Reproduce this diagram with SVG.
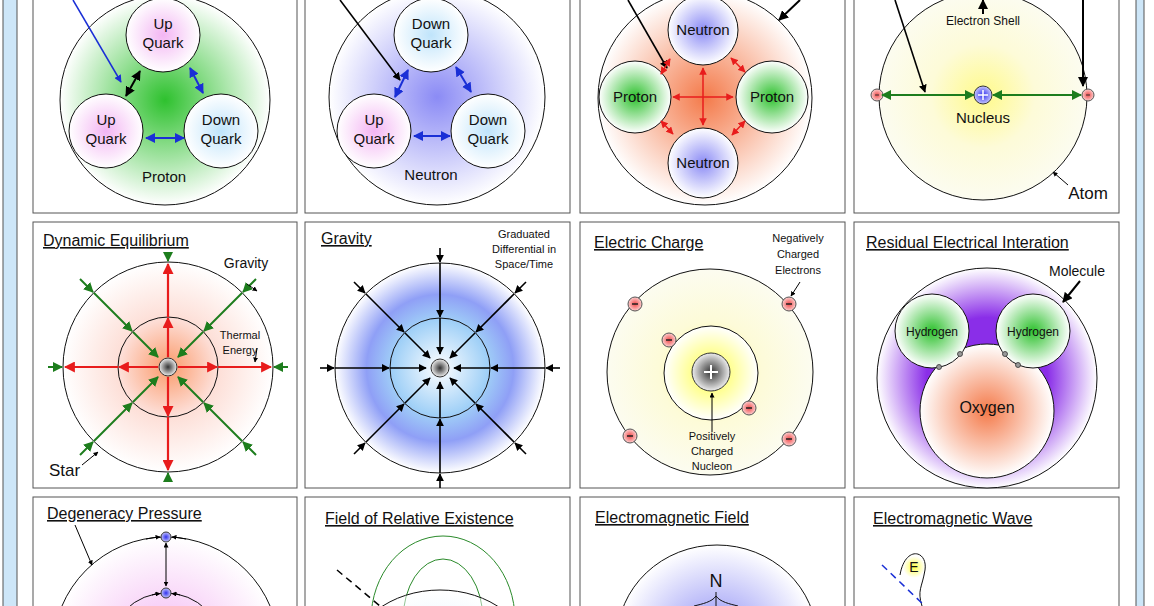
<svg xmlns="http://www.w3.org/2000/svg" width="1154" height="606" viewBox="0 0 1154 606">
<style>
text{font-family:"Liberation Sans",Arial,sans-serif;fill:#111}
.c{text-anchor:middle}
.l{fill:none;stroke:#111;stroke-width:1}
.box{fill:#fff;stroke:#555;stroke-width:1}
.t{font-size:16px;text-decoration:underline}
.q{font-size:15px}
.s{font-size:11px}
.rd{stroke:#e81c1c;stroke-width:2.2;marker-end:url(#ar)}
.rr{stroke:#e81c1c;stroke-width:1.5;marker-start:url(#ar);marker-end:url(#ar)}
.gr{stroke:#1d7d1d;stroke-width:2;marker-end:url(#ag)}
.bk{stroke:#000;stroke-width:1.6;marker-end:url(#ak)}
.b1{stroke:#000;stroke-width:1;marker-end:url(#ak)}
.bb{stroke:#1a2fd6;stroke-width:2;marker-start:url(#ab);marker-end:url(#ab)}
</style>
<defs>
<marker id="ak" viewBox="0 0 10 10" refX="9" refY="5" markerWidth="5" markerHeight="5" orient="auto-start-reverse"><path d="M0,0L10,5L0,10z" fill="#000"/></marker>
<marker id="ab" viewBox="0 0 10 10" refX="9" refY="5" markerWidth="5" markerHeight="5" orient="auto-start-reverse"><path d="M0,0L10,5L0,10z" fill="#1a2fd6"/></marker>
<marker id="ar" viewBox="0 0 10 10" refX="9" refY="5" markerWidth="5" markerHeight="5" orient="auto-start-reverse"><path d="M0,0L10,5L0,10z" fill="#e81c1c"/></marker>
<marker id="ag" viewBox="0 0 10 10" refX="9" refY="5" markerWidth="5" markerHeight="5" orient="auto-start-reverse"><path d="M0,0L10,5L0,10z" fill="#1d7d1d"/></marker>
<radialGradient id="gGreen"><stop offset="0" stop-color="#2ec12e"/><stop offset="1" stop-color="#fff"/></radialGradient>
<radialGradient id="gPink"><stop offset="0" stop-color="#f3b5f3"/><stop offset="1" stop-color="#fff"/></radialGradient>
<radialGradient id="gCyan"><stop offset="0" stop-color="#bfe4fb"/><stop offset="1" stop-color="#fff"/></radialGradient>
<radialGradient id="gBlue"><stop offset="0" stop-color="#8b8bf5"/><stop offset="1" stop-color="#fff"/></radialGradient>
<radialGradient id="gOrange"><stop offset="0" stop-color="#f47a4a"/><stop offset="1" stop-color="#fff"/></radialGradient>
<radialGradient id="gYellow"><stop offset="0" stop-color="#fffa8a"/><stop offset="0.5" stop-color="#fdfbd8"/><stop offset="1" stop-color="#fcfcf0"/></radialGradient>
<radialGradient id="gRedPale"><stop offset="0" stop-color="#fb9a6a"/><stop offset="0.45" stop-color="#fdddd5"/><stop offset="1" stop-color="#fff"/></radialGradient>
<radialGradient id="gSky"><stop offset="0" stop-color="#fff"/><stop offset="0.45" stop-color="#a0d0f7"/><stop offset="0.7" stop-color="#8f9ff6"/><stop offset="1" stop-color="#fff"/></radialGradient>
<radialGradient id="gGray"><stop offset="0" stop-color="#333"/><stop offset="1" stop-color="#eee"/></radialGradient>
<radialGradient id="gPurple"><stop offset="0.55" stop-color="#8a2ee8"/><stop offset="1" stop-color="#fff"/></radialGradient>
<radialGradient id="gEl"><stop offset="0" stop-color="#f34a4a"/><stop offset="1" stop-color="#fbd0d0"/></radialGradient>
<radialGradient id="gNu"><stop offset="0" stop-color="#3030ee"/><stop offset="1" stop-color="#c8c8fb"/></radialGradient>
<radialGradient id="gYel2"><stop offset="0" stop-color="#ffff44"/><stop offset="1" stop-color="#fff"/></radialGradient>
</defs>
<rect width="1154" height="606" fill="#fff"/>
<g id="frame">
<rect x="3" y="-2" width="14" height="610" fill="#cde6f8" stroke="#555"/>
<rect x="1136" y="-2" width="8" height="610" fill="#cde6f8" stroke="#555"/>
<rect x="33" y="-5" width="264" height="218" class="box"/>
<rect x="305" y="-5" width="265" height="218" class="box"/>
<rect x="580" y="-5" width="265" height="218" class="box"/>
<rect x="854" y="-5" width="265" height="218" class="box"/>
<rect x="33" y="222" width="264" height="266" class="box"/>
<rect x="305" y="222" width="265" height="266" class="box"/>
<rect x="580" y="222" width="265" height="266" class="box"/>
<rect x="854" y="222" width="265" height="266" class="box"/>
<rect x="33" y="497" width="264" height="120" class="box"/>
<rect x="305" y="497" width="265" height="120" class="box"/>
<rect x="580" y="497" width="265" height="120" class="box"/>
<rect x="854" y="497" width="265" height="120" class="box"/>
</g>

<g id="proton">
<circle cx="165" cy="100" r="105" fill="url(#gGreen)" stroke="#111"/>
<circle cx="163" cy="35" r="37" fill="url(#gPink)" stroke="#111"/>
<circle cx="106" cy="131" r="37" fill="url(#gPink)" stroke="#111"/>
<circle cx="221" cy="131" r="37" fill="url(#gCyan)" stroke="#111"/>
<text x="163" y="29" class="c q">Up</text><text x="163" y="48" class="c q">Quark</text>
<text x="106" y="125" class="c q">Up</text><text x="106" y="144" class="c q">Quark</text>
<text x="221" y="125" class="c q">Down</text><text x="221" y="144" class="c q">Quark</text>
<text x="164" y="182" class="c q">Proton</text>
</g>
<g id="neutron">
<circle cx="437" cy="97" r="108" fill="url(#gBlue)" stroke="#111"/>
<circle cx="431" cy="35" r="37" fill="url(#gCyan)" stroke="#111"/>
<circle cx="374" cy="131" r="37" fill="url(#gPink)" stroke="#111"/>
<circle cx="488" cy="131" r="37" fill="url(#gCyan)" stroke="#111"/>
<text x="431" y="29" class="c q">Down</text><text x="431" y="48" class="c q">Quark</text>
<text x="374" y="125" class="c q">Up</text><text x="374" y="144" class="c q">Quark</text>
<text x="488" y="125" class="c q">Down</text><text x="488" y="144" class="c q">Quark</text>
<text x="431" y="180" class="c q">Neutron</text>
</g>
<g id="nucleus">
<circle cx="705" cy="98" r="107" fill="url(#gOrange)" stroke="#111"/>
<circle cx="703" cy="30" r="35" fill="url(#gBlue)" stroke="#111"/>
<circle cx="703" cy="163" r="35" fill="url(#gBlue)" stroke="#111"/>
<circle cx="635" cy="97" r="36" fill="url(#gGreen)" stroke="#111"/>
<circle cx="772" cy="97" r="36" fill="url(#gGreen)" stroke="#111"/>
<text x="703" y="35" class="c q">Neutron</text>
<text x="703" y="168" class="c q">Neutron</text>
<text x="635" y="102" class="c q">Proton</text>
<text x="772" y="102" class="c q">Proton</text>
</g>
<g id="atom">
<circle cx="983" cy="96" r="104" fill="url(#gYellow)" stroke="#111"/>
<circle cx="983" cy="95" r="9" fill="url(#gNu)" stroke="#333"/>
<path d="M978,95h10M983,90v10" stroke="#fff" stroke-width="1.5"/>
<circle cx="877" cy="95" r="6" fill="url(#gEl)" stroke="#555"/>
<circle cx="1088" cy="95" r="6" fill="url(#gEl)" stroke="#555"/>
<path d="M875,95h4M1086,95h4" stroke="#333"/>
<text x="983" y="123" class="c q">Nucleus</text>
<text x="983" y="25" class="c" font-size="12">Electron Shell</text>
<text x="1088" y="199" class="c" font-size="17">Atom</text>
</g>

<g id="dynamic-equilibrium">
<text x="43" y="246" class="t">Dynamic Equilibrium</text>
<circle cx="168" cy="367" r="105" fill="url(#gRedPale)" stroke="#111"/>
<circle cx="168" cy="367" r="50" fill="none" stroke="#111"/>
<circle cx="168" cy="367" r="9" fill="url(#gGray)" stroke="#333"/>
<text x="246" y="268" class="c" font-size="14">Gravity</text>
<text x="240" y="339" class="c" font-size="11">Thermal</text>
<text x="240" y="354" class="c" font-size="11">Energy</text>
<text x="49" y="476" font-size="17">Star</text>
</g>
<g id="gravity">
<text x="321" y="244" class="t">Gravity</text>
<circle cx="440" cy="368" r="105" fill="url(#gSky)" stroke="#111"/>
<circle cx="440" cy="368" r="50" fill="none" stroke="#111"/>
<circle cx="440" cy="368" r="9" fill="url(#gGray)" stroke="#333"/>
<text x="524" y="238" class="c s">Graduated</text>
<text x="524" y="253" class="c s">Differential in</text>
<text x="524" y="268" class="c s">Space/Time</text>
</g>
<g id="electric-charge">
<text x="594" y="248" class="t">Electric Charge</text>
<circle cx="710" cy="372" r="103" fill="url(#gYellow)" stroke="#111"/>
<circle cx="711" cy="373" r="47" fill="url(#gYel2)" stroke="#111"/>
<circle cx="711" cy="372" r="19" fill="url(#gGray)" stroke="#333"/>
<path d="M704,372h14M711,365v14" stroke="#fff" stroke-width="2"/>
<g fill="url(#gEl)" stroke="#555">
<circle cx="635" cy="304" r="7"/><circle cx="789" cy="304" r="7"/><circle cx="630" cy="436" r="7"/><circle cx="789" cy="439" r="7"/><circle cx="669" cy="340" r="7"/><circle cx="749" cy="408" r="7"/>
</g>
<path d="M632,304h6M786,304h6M627,436h6M786,439h6M666,340h6M746,408h6" stroke="#222" stroke-width="1.5"/>
<text x="798" y="242" class="c s">Negatively</text>
<text x="798" y="258" class="c s">Charged</text>
<text x="798" y="274" class="c s">Electrons</text>
<text x="712" y="440" class="c s">Positively</text>
<text x="712" y="455" class="c s">Charged</text>
<text x="712" y="470" class="c s">Nucleon</text>
</g>
<g id="molecule">
<text x="866" y="248" class="t">Residual Electrical Interation</text>
<circle cx="987" cy="378" r="110" fill="url(#gPurple)" stroke="#111"/>
<circle cx="987" cy="411" r="67" fill="url(#gOrange)" stroke="#111"/>
<circle cx="932" cy="331" r="37" fill="url(#gGreen)" stroke="#111"/>
<circle cx="1033" cy="331" r="37" fill="url(#gGreen)" stroke="#111"/>
<text x="932" y="336" class="c" font-size="12">Hydrogen</text>
<text x="1033" y="336" class="c" font-size="12">Hydrogen</text>
<text x="987" y="413" class="c" font-size="16">Oxygen</text>
<text x="1077" y="276" class="c" font-size="14">Molecule</text>
<g fill="#999" stroke="#333" stroke-width="0.8"><circle cx="939" cy="367" r="2.5"/><circle cx="960" cy="354" r="2.5"/><circle cx="1005" cy="354" r="2.5"/><circle cx="1018" cy="365" r="2.5"/></g>
</g>

<g id="degeneracy-pressure">
<text x="47" y="519" class="t">Degeneracy Pressure</text>
<circle cx="166" cy="650" r="113" fill="url(#gPink)" stroke="#111"/>
<circle cx="166" cy="650" r="57" fill="none" stroke="#111"/>
<circle cx="166" cy="537" r="5" fill="url(#gNu)" stroke="#333"/>
<circle cx="166" cy="593" r="5" fill="url(#gNu)" stroke="#333"/>
</g>
<g id="field-of-relative-existence">
<text x="325" y="524" class="t">Field of Relative Existence</text>
<ellipse cx="443" cy="620" rx="72" ry="84" fill="none" stroke="#2a8a2a"/>
<ellipse cx="443" cy="620" rx="40" ry="61" fill="none" stroke="#2a8a2a"/>
<ellipse cx="440" cy="660" rx="90" ry="70" fill="url(#gCyan)" fill-opacity="0.5" stroke="#111"/>
</g>
<g id="electromagnetic-field">
<text x="595" y="523" class="t">Electromagnetic Field</text>
<ellipse cx="717" cy="640" rx="100" ry="95" fill="url(#gBlue)" stroke="#111"/>
<text x="716" y="587" class="c" font-size="18">N</text>
<path d="M716,592v14M716,596c-4,6-14,8-22,10M716,596c4,6 14,8 22,10" class="l"/>
</g>
<g id="electromagnetic-wave">
<text x="873" y="524" class="t">Electromagnetic Wave</text>
<circle cx="914" cy="567" r="11" fill="url(#gYel2)"/>
<text x="914" y="572" class="c" font-size="14">E</text>
<path d="M900,575c5,-30 28,-25 25,-5c-3,18 -8,20 -3,36" class="l" stroke-width="1.5"/>
</g>

<g id="connectors" fill="none">
<path d="M73,0L121,82" stroke="#1a2fd6" stroke-width="1.5" marker-end="url(#ab)"/>
<path d="M140,71L126,96" stroke="#000" stroke-width="2" marker-start="url(#ak)" marker-end="url(#ak)"/>
<path d="M190,68L203,93" class="bb"/>
<path d="M146,138H184" class="bb"/>
<path d="M340,0L400,80" class="bk"/>
<path d="M408,70L395,97" class="bb"/>
<path d="M456,67L471,92" class="bb"/>
<path d="M414,136H450" class="bb"/>
<path d="M628,0L667,68" class="bk"/>
<path d="M800,0L779,20" stroke="#000" stroke-width="2" marker-end="url(#ak)"/>
<path d="M703,68V125" class="rr"/><path d="M673,97H733" class="rr"/>
<path d="M670,59L661,74" class="rr"/><path d="M731,58L745,72" class="rr"/>
<path d="M661,121L673,134" class="rr"/><path d="M745,121L732,135" class="rr"/>
<path d="M882,95H974" stroke="#1d7d1d" stroke-width="2" marker-start="url(#ag)" marker-end="url(#ag)"/>
<path d="M993,95H1081" stroke="#1d7d1d" stroke-width="2" marker-start="url(#ag)" marker-end="url(#ag)"/>
<path d="M895,0L925,92" class="bk"/>
<path d="M1083,0V86" stroke="#000" stroke-width="2" marker-end="url(#ak)"/>
<path d="M983,14V0" stroke="#000" stroke-width="2" marker-end="url(#ak)"/>
<path d="M1068,185L1053,172" class="b1"/>

<path d="M168,357V318" class="rd"/><path d="M168,317V264" class="rd"/>
<path d="M168,377V416" class="rd"/><path d="M168,417V470" class="rd"/>
<path d="M158,367H119" class="rd"/><path d="M118,367H65" class="rd"/>
<path d="M178,367H217" class="rd"/><path d="M218,367H271" class="rd"/>

<path d="M80,279L93,292" class="gr"/><path d="M94,293L132,331" class="gr"/><path d="M133,332L158,357" class="gr"/>
<path d="M256,279L243,292" class="gr"/><path d="M242,293L204,331" class="gr"/><path d="M203,332L178,357" class="gr"/>
<path d="M80,455L93,442" class="gr"/><path d="M94,441L132,403" class="gr"/><path d="M133,402L158,377" class="gr"/>
<path d="M256,455L243,442" class="gr"/><path d="M242,441L204,403" class="gr"/><path d="M203,402L178,377" class="gr"/>
<path d="M168,252V261" class="gr"/><path d="M168,482V473" class="gr"/><path d="M48,367H62" class="gr"/><path d="M288,367H274" class="gr"/>
<path d="M247,284L257,291" class="b1"/>
<path d="M257,348L255,362" class="b1"/>
<path d="M82,465L98,452" class="b1"/>

<path d="M440,248V262" class="bk"/><path d="M440,263V317" class="bk"/><path d="M440,318V354" class="bk"/>
<path d="M440,488V474" class="bk"/><path d="M440,473V419" class="bk"/><path d="M440,418V382" class="bk"/>
<path d="M320,368H334" class="bk"/><path d="M335,368H389" class="bk"/><path d="M390,368H426" class="bk"/>
<path d="M560,368H546" class="bk"/><path d="M545,368H491" class="bk"/><path d="M490,368H454" class="bk"/>
<path d="M354,282L365,293" class="bk"/><path d="M366,294L404,332" class="bk"/><path d="M405,333L430,358" class="bk"/>
<path d="M526,282L515,293" class="bk"/><path d="M514,294L476,332" class="bk"/><path d="M475,333L450,358" class="bk"/>
<path d="M354,454L365,443" class="bk"/><path d="M366,442L404,404" class="bk"/><path d="M405,403L430,378" class="bk"/>
<path d="M526,454L515,443" class="bk"/><path d="M514,442L476,404" class="bk"/><path d="M475,403L450,378" class="bk"/>

<path d="M800,282L791,296" class="b1"/>
<path d="M712,432V393" class="b1"/>
<path d="M1080,281L1063,302" stroke="#000" stroke-width="2" marker-end="url(#ak)"/>

<path d="M75,525L92,565" class="b1"/>
<path d="M166,543V586" class="b1" marker-start="url(#ak)"/>
<path d="M146,539Q153,537.5 160,537" class="b1"/><path d="M186,539Q179,537.5 172,537" class="b1"/>
<path d="M152,595Q156,594 160,593.5" class="b1"/><path d="M180,595Q176,594 172,593.5" class="b1"/>
<path d="M337,570L380,606" stroke="#000" stroke-width="1.5" stroke-dasharray="7,5"/>
<path d="M882,565L925,606" stroke="#1a2fd6" stroke-width="1.5" stroke-dasharray="7,5"/>
</g>
</svg>
